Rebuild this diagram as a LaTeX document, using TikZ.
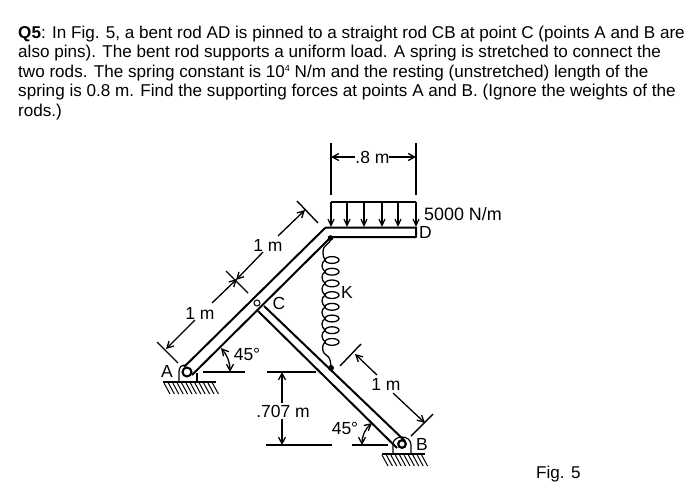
\documentclass[tikz,border=0pt]{standalone}
\usepackage{fontspec}
\setmainfont{Liberation Sans}
\usetikzlibrary{arrows.meta,patterns}
\tikzset{
  q/.style={anchor=base west,inner sep=0pt,font=\fontsize{17.1}{19}\selectfont},
  lab/.style={inner sep=0pt,font=\fontsize{17.5}{19}\selectfont},
  rod/.style={line width=2pt,line join=round},
  dimn/.style={line width=1.4pt},
  dima/.style={line width=1.3pt,-{Straight Barb[length=6.5pt,width=7pt]}},
  dimb/.style={line width=1.3pt,{Straight Barb[length=6.5pt,width=7pt]}-{Straight Barb[length=6.5pt,width=7pt]}},
  load/.style={line width=1.2pt,-{Straight Barb[length=6.5pt,width=6pt]}},
  hatchl/.style={line width=1pt},
  coil/.style={line width=1.3pt},
}
\begin{document}
\begin{tikzpicture}[x=1pt,y=-1pt]
\useasboundingbox (0,0) rectangle (700,490);
% question text
\node[q] (l1) at (18,38) {\textbf{Q5}: In Fig. 5, a bent rod AD is pinned to a straight rod CB at point C (points A and B are};
\node[q] (l2) at (18,57.5) {also pins). The bent rod supports a uniform load. A spring is stretched to connect the};
\node[q] (l3) at (18,77) {two rods. The spring constant is 10\raisebox{6pt}{\fontsize{9}{9}\selectfont 4} N/m and the resting (unstretched) length of the};
\node[q] (l4) at (18,96.5) {spring is 0.8 m. Find the supporting forces at points A and B. (Ignore the weights of the};
\node[q] (l5) at (18,116) {rods.)};
\node[q] (fig) at (536,478) {Fig. 5};
% key points
\coordinate (A) at (187,372);
\coordinate (B) at (402,444);
\coordinate (C) at (257,303);
\coordinate (S1) at (330.5,238);
\coordinate (S2) at (331,368);
% rods
\draw[rod] (184,367) -- (324,229) -- (326,227.5) -- (416,227.5) -- (416,237) -- (333,237) -- (329,239) -- (192,375);
\draw[rod] (264,306) -- (405,441);
\draw[rod] (258,311) -- (397,448);
\draw[line width=1pt,fill=white] (C) circle (3);
% spring
\fill (S1) circle (2.8);
\fill (S2) circle (3);
\draw[coil] (S1) .. controls (331,245) and (323,243) .. (323,252) .. controls (323,255) and (323,257) .. (325,260);
\foreach \i in {0,...,7}{
  \draw[coil] (332,{260+11.7*\i}) ellipse (7 and 3.4);
}
\foreach \i in {0,...,6}{
  \draw[coil] (325,{260+11.7*\i}) .. controls (321,{263+11.7*\i}) and (321,{268+11.7*\i}) .. (325,{271.7+11.7*\i});
}
\draw[coil] (325,341.9) .. controls (322,345) and (322,350) .. (324,353) .. controls (326,356) and (331,355) .. (S2);
% load
\draw[line width=1.3pt] (331,202) -- (416,202);
\foreach \px in {331,347,364,382,398,416}{\draw[load] (\px,202) -- (\px,227);}
\node[lab,anchor=west] (w) at (424,214) {\fontsize{17.9}{19}\selectfont 5000 N/m};
\node[lab,anchor=west] (D) at (419,232) {D};
\node[lab] (K) at (347,292) {K};
\node[lab] (Cl) at (279,303) {C};
% .8 m
\draw[dimn] (331,143) -- (331,195);
\draw[dimn] (416,143) -- (416,195);
\node[lab] (d8) at (372.5,157) {.8 m};
\draw[dima] (355,157) -- (331,157);
\draw[dima] (389,157) -- (416,157);
% 1 m along AD
\draw[dimn] (297,201) -- (318,223);
\draw[dimn] (226,271) -- (248,293);
\draw[dimn] (157,342) -- (178,363);
\node[lab] (m1) at (268,245) {1 m};
\node[lab] (m2) at (200,313) {1 m};
\draw[dima] (278,236) -- (305,210);
\draw[dima] (263,252) -- (236,280);
\draw[dima] (212,303) -- (237,279);
\draw[dima] (195,320) -- (166,349);
% 1 m along CB
\draw[dimn] (340,366) -- (361,344);
\draw[dimn] (411,436) -- (433,414);
\node[lab] (m3) at (386,384) {1 m};
\draw[dima] (377,375) -- (355,354);
\draw[dima] (393,393) -- (425,423);
% 45 at A
\draw[line width=1.1pt] (203,372) -- (245,372);
\draw[dimb] (230,372) .. controls (230,362) and (227,355) .. (221,348);
\node[lab] (a1) at (247,354) {45\textdegree};
% .707 m
\draw[line width=1.1pt] (267,372) -- (316,372);
\draw[line width=1.6pt] (266,445) -- (332,445);
\node[lab] (d7) at (283,411) {.707 m};
\draw[dima] (282,403) -- (282,372);
\draw[dima] (282,419) -- (282,445);
% 45 at B
\draw[line width=1.1pt] (352,445) -- (388,445);
\draw[dimb] (362,445) .. controls (362,436) and (365,429) .. (372,423);
\node[lab] (a2) at (345,428) {45\textdegree};
% support A
\draw[line width=1.2pt] (179,382) -- (179,372) .. controls (179,367) and (181,365) .. (186,365);
\draw[line width=1.2pt] (197,382) -- (197,373);
\draw[line width=1.5pt] (163,382) -- (216,382);
\foreach \i in {0,...,11}{\draw[hatchl] ({164+4.4*\i},383) -- ({170+4.4*\i},394);}
\fill[white] (A) circle (5);
\draw[line width=2pt] (A) circle (4.5);
\node[lab] (Al) at (167,371) {A};
% support B
\draw[line width=1.2pt] (393,454) -- (393,444) .. controls (393,440) and (397,437) .. (402,437) .. controls (407,437) and (411,440) .. (411,445) -- (411,454);
\draw[line width=1.5pt] (382,454) -- (425,454);
\foreach \i in {0,...,9}{\draw[hatchl] ({382+4.4*\i},455) -- ({388+4.4*\i},466);}
\fill[white] (B) circle (4.5);
\draw[line width=2.2pt] (B) circle (3.8);
\node[lab] (Bl) at (422,444) {B};
\end{tikzpicture}
\end{document}
